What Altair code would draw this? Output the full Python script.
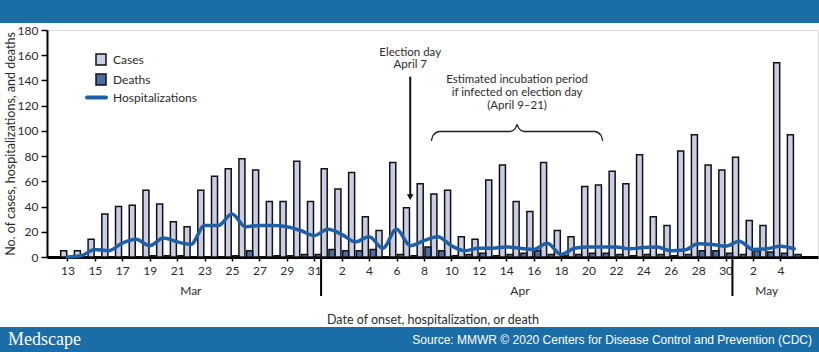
import altair as alt
import pandas as pd

# ---------------- data ----------------
dates = pd.date_range("2020-03-13", "2020-05-05", freq="D")

cases = [5, 5, 14, 34, 40, 41, 53, 42, 28, 24, 53, 64, 70, 78, 69, 44, 44, 76, 44,
         70, 54, 67, 32, 21, 75, 39, 58, 50, 53, 16, 14, 61, 73, 44, 36, 75, 21, 16, 56, 57,
         68, 58, 81, 32, 25, 84, 97, 73, 69,
         79, 29, 25, 154, 97]
deaths = [0, 0, 0, 0, 0, 0, 1, 1, 1, 0, 0, 0, 1, 5, 0, 1, 1, 2, 2,
          6, 5, 5, 6, 0, 2, 1, 8, 5, 1, 2, 3, 1, 2, 3, 5, 2, 1, 2, 3, 3,
          2, 1, 2, 2, 1, 2, 5, 5, 3,
          2, 5, 4, 3, 2]
hosp = [0, 1, 6, 5, 11, 14, 9, 15, 12, 10, 25, 25, 34, 24, 25, 25, 24, 21, 17,
        22, 18, 12, 16, 7, 22, 9, 13, 16, 9, 5, 7, 7, 8, 7, 6, 11, 2, 7, 8, 8,
        8, 6.5, 7.5, 8, 5, 5.5, 10.5, 10, 8.5,
        12.5, 6, 6.5, 8.5, 6.5]

y_ticks = [0, 20, 40, 60, 80, 100, 120, 140, 160, 180]
month_names = ["Mar", "Apr", "May"]
month_label_dates = ["2020-03-22", "2020-04-15", "2020-05-03"]
month_breaks = ["2020-03-31T12:00:00Z", "2020-04-30T12:00:00Z"]

election_date = "2020-04-07"
arrow_top, arrow_bottom, arrow_head = 143, 49, 47.5
brace_start = pd.Timestamp("2020-04-08 13:00")
brace_end = pd.Timestamp("2020-04-21 01:00")
brace_y = 99.5

# ---------------- layout ----------------
W, H = 771, 227
PAD_L, PAD_T = 47, 30
BLUE_BAND = "#1b6da7"
CASE_FILL = "#c9cee6"
DEATH_FILL = "#4a6ea8"
LINE_COL = "#1f5fa8"
FONT = "Lato"
TXT = "#2b2b2b"

iso = [d.strftime("%Y-%m-%d") for d in dates]
df = pd.DataFrame({"date": iso, "cases": cases, "deaths": deaths, "hosp": hosp})

xdomain = [alt.DateTime(year=2020, month=3, date=11, hours=21, utc=True),
           alt.DateTime(year=2020, month=5, date=6, hours=9, utc=True)]
tick_vals = [alt.DateTime(year=2020, month=d.month, date=d.day, utc=True) for d in dates[::2]]

xaxis = alt.Axis(values=tick_vals, format="%-d", labelFontSize=12,
                 labelColor=TXT, labelFont=FONT, tickSize=4, tickWidth=1.5,
                 tickColor="black", domainColor="black", domainWidth=3,
                 labelPadding=4, grid=False, labelOverlap=False,
                 title="Date of onset, hospitalization, or death",
                 titleFont=FONT, titleFontSize=12.5, titleFontWeight="normal",
                 titleColor=TXT, titleY=62, titleBaseline="middle")
xscale = alt.Scale(type="utc", domain=xdomain)
yscale = alt.Scale(domain=[0, 180], nice=False)
yaxis = alt.Axis(values=y_ticks, labelFontSize=12, labelColor=TXT,
                 labelFont=FONT, tickSize=6, tickWidth=1.5, tickColor="black",
                 domainColor="black", domainWidth=2, labelPadding=3, grid=False,
                 labelOverlap=False, tickCount=10,
                 title="No. of cases, hospitalizations, and deaths",
                 titleFont=FONT, titleFontSize=12.5, titleFontWeight="normal",
                 titleColor=TXT, titleX=-37, titleY=H / 2, titleBaseline="middle",
                 titleAlign="center")

X = alt.X("date:T", scale=xscale, axis=xaxis)


def Y(field):
    return alt.Y(field, scale=yscale, axis=yaxis)


base = alt.Chart(df)

case_bars = base.mark_bar(width=6, xOffset=-3.75, fill=CASE_FILL, stroke="#111",
                          strokeWidth=1.5).encode(x=X, y=Y("cases:Q"))
death_bars = base.mark_bar(width=6, xOffset=4, fill=DEATH_FILL, stroke="#111",
                           strokeWidth=1.5).encode(x=X, y=Y("deaths:Q"))
hosp_line = base.mark_line(color=LINE_COL, strokeWidth=3.5, interpolate="monotone",
                           strokeCap="round", strokeJoin="round").encode(
    x=X, y=Y("hosp:Q"))

# month separators and labels
sep = alt.Chart(pd.DataFrame({"date": month_breaks})).mark_rule(
    color="black", strokeWidth=2).encode(
    x=X, y=alt.value(H), y2=alt.value(H + 39))
months = alt.Chart(pd.DataFrame({"date": month_label_dates, "m": month_names})).mark_text(
    font=FONT, fontSize=12, color=TXT, baseline="middle").encode(
    x=X, y=alt.value(H + 34), text="m:N")

# election day annotation
el = pd.DataFrame({"date": [election_date], "top": [arrow_top],
                   "bot": [arrow_bottom], "head": [arrow_head]})
el_rule = alt.Chart(el).mark_rule(color="#111", strokeWidth=2).encode(
    x=X, y=Y("top:Q"), y2="bot:Q")
el_head = alt.Chart(el).mark_point(shape="triangle-down", filled=True, color="#111",
                                   size=45, opacity=1).encode(x=X, y=Y("head:Q"))
el_text = alt.Chart(pd.DataFrame({"date": [election_date] * 2,
                                  "t": ["Election day", "April 7"],
                                  "yv": [162, 152.2]})).mark_text(
    font=FONT, fontSize=11.5, color=TXT, baseline="middle").encode(
    x=X, y=Y("yv:Q"), text="t:N")

# incubation brace
mid = brace_start + (brace_end - brace_start) / 2
d = pd.Timedelta
bx = [brace_start, brace_start + d(hours=3), brace_start + d(hours=14),
      mid - d(hours=12), mid - d(hours=3), mid, mid + d(hours=3), mid + d(hours=12),
      brace_end - d(hours=14), brace_end - d(hours=3), brace_end]
by = [brace_y - 7.5, brace_y - 3, brace_y, brace_y, brace_y + 2.5, brace_y + 5.5,
      brace_y + 2.5, brace_y, brace_y, brace_y - 3, brace_y - 7.5]
brace_df = pd.DataFrame({"date": [t.strftime("%Y-%m-%dT%H:%M:%SZ") for t in bx],
                         "yv": by, "o": list(range(len(bx)))})
brace = alt.Chart(brace_df).mark_line(color="#222", strokeWidth=1.3,
                                      interpolate="monotone").encode(
    x=X, y=Y("yv:Q"), order="o:Q")
inc_text = alt.Chart(pd.DataFrame({
    "date": [mid.strftime("%Y-%m-%dT%H:%M:%SZ")] * 3,
    "t": ["Estimated incubation period", "if infected on election day", "(April 9\u201321)"],
    "yv": [140, 130, 119.5]})).mark_text(
    font=FONT, fontSize=11.5, color=TXT, baseline="middle").encode(
    x=X, y=Y("yv:Q"), text="t:N")

# legend (drawn manually)
one = pd.DataFrame({"k": [0]})
leg_case = alt.Chart(one).mark_rect(fill=CASE_FILL, stroke="#111", strokeWidth=1.5).encode(
    x=alt.value(49), x2=alt.value(59), y=alt.value(24), y2=alt.value(35))
leg_death = alt.Chart(one).mark_rect(fill=DEATH_FILL, stroke="#111", strokeWidth=1.5).encode(
    x=alt.value(49), x2=alt.value(59), y=alt.value(44), y2=alt.value(55))
leg_line = alt.Chart(one).mark_rule(color=LINE_COL, strokeWidth=4, strokeCap="round").encode(
    x=alt.value(40), x2=alt.value(59), y=alt.value(67.5))
leg_labels = ["Cases", "Deaths", "Hospitalizations"]
leg_text = [alt.Chart(one).mark_text(text=t, font=FONT, fontSize=12, color=TXT,
                                     align="left", baseline="middle").encode(
    x=alt.value(66), y=alt.value(py)) for t, py in zip(leg_labels, [29.5, 49.5, 67.5])]

# banners
top_band = alt.Chart(one).mark_rect(color=BLUE_BAND).encode(
    x=alt.value(-PAD_L), x2=alt.value(W + 1), y=alt.value(-PAD_T), y2=alt.value(-7))
bot_band = alt.Chart(one).mark_rect(color=BLUE_BAND).encode(
    x=alt.value(-PAD_L), x2=alt.value(W + 1), y=alt.value(297), y2=alt.value(322))
logo = alt.Chart(one).mark_text(text="Medscape", font="Liberation Serif", fontSize=18,
                                color="white", align="left", baseline="middle").encode(
    x=alt.value(-39), y=alt.value(310))
source = alt.Chart(one).mark_text(
    text="Source: MMWR \u00a9 2020 Centers for Disease Control and Prevention (CDC)",
    font="Liberation Sans", fontSize=12, color="white", align="right",
    baseline="middle").encode(x=alt.value(765), y=alt.value(310))

chart = alt.layer(
    case_bars, death_bars, hosp_line, sep, months, el_rule, el_head, el_text,
    brace, inc_text, leg_case, leg_death, leg_line, *leg_text,
    top_band, bot_band, logo, source
).properties(
    width=W, height=H,
    padding={"left": PAD_L, "top": PAD_T, "right": 1, "bottom": 95},
    autosize=alt.AutoSizeParams(type="none"),
    background="white"
).configure_view(stroke="black", strokeWidth=2).configure_axis(
    labelOverlap=False).configure(font=FONT)

chart.save("out.html", embed_options={"renderer": "svg", "actions": False})
